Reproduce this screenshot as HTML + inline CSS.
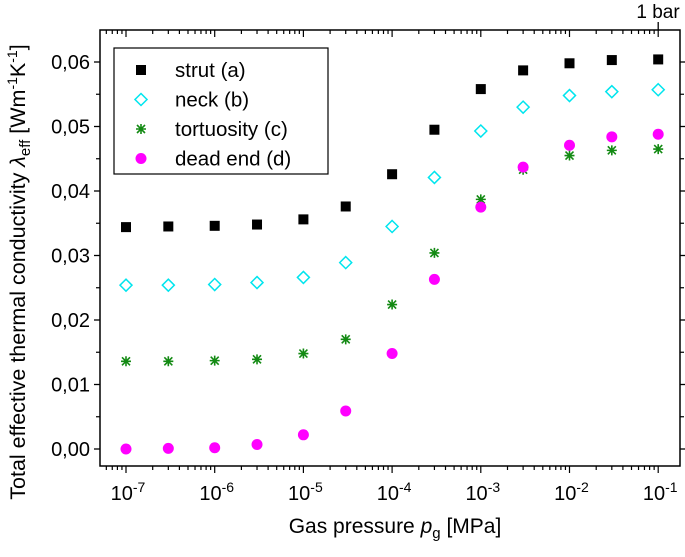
<!DOCTYPE html>
<html><head><meta charset="utf-8"><style>
body{margin:0;background:#fff}
svg text{font-family:"Liberation Sans",Arial,sans-serif;fill:#000}
</style></head><body>
<svg id="chart" width="685" height="552" xmlns="http://www.w3.org/2000/svg">
<g id="axes"></g>
<g id="marks"></g>
<g id="legend"></g>
<text x="395" y="533" font-size="21" text-anchor="middle">Gas pressure <tspan font-style="italic">p</tspan><tspan font-size="15" dy="5">g</tspan><tspan dy="-5"> [MPa]</tspan></text>
<text transform="translate(25,272) rotate(-90)" font-size="21.5" text-anchor="middle">Total effective thermal conductivity <tspan font-style="italic">λ</tspan><tspan font-size="15" dy="5">eff</tspan><tspan dy="-5"> [Wm</tspan><tspan font-size="14" dy="-8">-1</tspan><tspan dy="8">K</tspan><tspan font-size="14" dy="-8">-1</tspan><tspan dy="8">]</tspan></text>
<text x="658" y="18" font-size="19" text-anchor="middle">1 bar</text>
</svg>
<script>
const pressures=[1e-7,3e-7,1e-6,3e-6,1e-5,3e-5,1e-4,3e-4,1e-3,3e-3,1e-2,3e-2,1e-1];
const strut=[0.0344,0.0345,0.0346,0.0348,0.0356,0.0376,0.0426,0.0495,0.0558,0.0587,0.0598,0.0603,0.0604];
const neck=[0.0254,0.0254,0.0255,0.0258,0.0266,0.0289,0.0345,0.0421,0.0493,0.0530,0.0548,0.0554,0.0557];
const tortuosity=[0.0136,0.0136,0.0137,0.0139,0.0148,0.0170,0.0224,0.0304,0.0387,0.0433,0.0455,0.0463,0.0465];
const deadEnd=[0.0000,0.0001,0.0002,0.0007,0.0022,0.0059,0.0148,0.0263,0.0375,0.0437,0.0471,0.0484,0.0488];
const yTicks=[0,0.01,0.02,0.03,0.04,0.05,0.06];
const yTickLabels=["0,00","0,01","0,02","0,03","0,04","0,05","0,06"];
const xDecades=[-7,-6,-5,-4,-3,-2,-1];

const NS="http://www.w3.org/2000/svg";
const L=100,R=680,T=30,B=466;
function xs(p){return 126+(Math.log10(p)+7)*88.7;}
function ys(v){return 449-v*6450;}
function mk(tag,attrs,parent){const e=document.createElementNS(NS,tag);for(const k in attrs)e.setAttribute(k,attrs[k]);parent.appendChild(e);return e;}
const axes=document.getElementById('axes'),marks=document.getElementById('marks'),legend=document.getElementById('legend');

const frame=mk('rect',{x:L,y:T,width:R-L,height:B-T,fill:'none',stroke:'#000','stroke-width':1.5},axes);



for(let i=0;i<yTicks.length;i++){
  const y=ys(yTicks[i]);
  const t=mk('line',{x1:L-6,x2:L,y1:y,y2:y,stroke:'#000','stroke-width':1.3},axes);
  
  
  mk('line',{x1:R,x2:R+6,y1:y,y2:y,stroke:'#000','stroke-width':1.3},axes);
  const tx=mk('text',{x:L-10,y:y+7,'font-size':20,'text-anchor':'end'},axes);
  tx.textContent=yTickLabels[i];
  
  
  if(i<yTicks.length-1){
    const ym=ys(yTicks[i]+0.005);
    mk('line',{x1:L-4,x2:L,y1:ym,y2:ym,stroke:'#000','stroke-width':1.2},axes);
    mk('line',{x1:R,x2:R+4,y1:ym,y2:ym,stroke:'#000','stroke-width':1.2},axes);
  }
}
for(let d=-8;d<=-1;d++){
  for(let m=1;m<10;m++){
    const p=m*Math.pow(10,d);const x=xs(p);
    if(x<L||x>R)continue;
    const len=m==1?7:4;
    mk('line',{x1:x,x2:x,y1:B,y2:B+len,stroke:'#000','stroke-width':1.2},axes);
    mk('line',{x1:x,x2:x,y1:T,y2:T+len,stroke:'#000','stroke-width':1.2},axes);
  }
}
mk('line',{x1:xs(0.1),x2:xs(0.1),y1:T-8,y2:T,stroke:'#000','stroke-width':1.3},axes);
xDecades.forEach(d=>{
  const x=xs(Math.pow(10,d));
  const tx=mk('text',{x:x+2,y:B+34,'font-size':20,'text-anchor':'middle'},axes);
  
  
  const a=mk('tspan',{},tx);a.textContent='10';
  const b=mk('tspan',{'font-size':14,dy:-8},tx);b.textContent=String(d);
});

function drawMarker(type,x,y,parent){
  let e;
  if(type==='square'){e=mk('rect',{x:x-5,y:y-5,width:10,height:10,fill:'#000'},parent);}
  else if(type==='diamond'){e=mk('path',{d:`M${x} ${y-6}L${x+6} ${y}L${x} ${y+6}L${x-6} ${y}Z`,fill:'none',stroke:'#00e5ee','stroke-width':1.5},parent);}
  else if(type==='star'){e=mk('path',{d:`M${x-5} ${y}H${x+5}M${x} ${y-5}V${y+5}M${x-4} ${y-4}L${x+4} ${y+4}M${x-4} ${y+4}L${x+4} ${y-4}`,stroke:'#138a13','stroke-width':1.6},parent);}
  else {e=mk('circle',{cx:x,cy:y,r:5.5,fill:'#ff00ff'},parent);}
  return e;
}
const series=[['strut',strut,'square','strut (a)'],['neck',neck,'diamond','neck (b)'],['tortuosity',tortuosity,'star','tortuosity (c)'],['dead-end',deadEnd,'circle','dead end (d)']];
series.forEach(([name,vals,type])=>{
  const g=mk('g',{},marks);
  
  
  vals.forEach((v,i)=>{
    const e=drawMarker(type,xs(pressures[i]),ys(v),g);
    
    
  });
});
const box=mk('rect',{x:114,y:48,width:214,height:126,fill:'#fff',stroke:'#000','stroke-width':1.2},legend);


series.forEach(([name,vals,type,label],i)=>{
  const y=70+i*29.5;
  const g=mk('g',{},legend);
  
  
  drawMarker(type,141,y,g);
  const t=mk('text',{x:175,y:y+7,'font-size':20.5},g);t.textContent=label;
});
</script>
</body></html>
